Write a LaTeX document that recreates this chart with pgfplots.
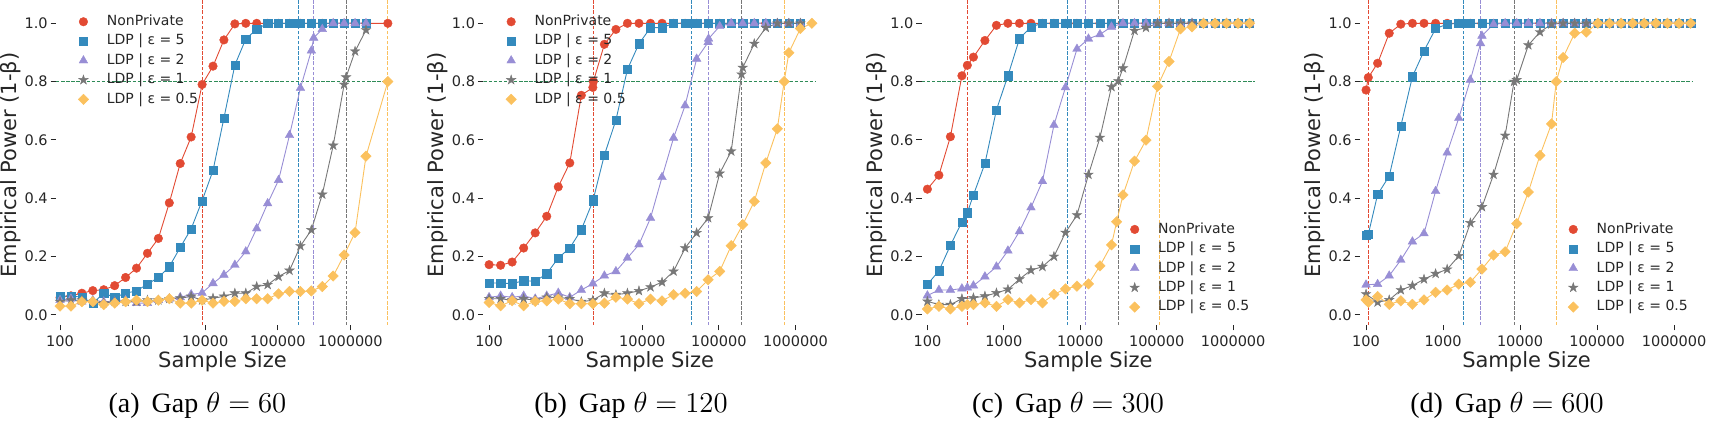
\documentclass[border=0pt]{standalone}
\usepackage{pgfplots}
\pgfplotsset{compat=1.18}
\usepackage{fontspec}
\newfontfamily\dejavu{DejaVu Sans}
\newfontfamily\capfont{Liberation Serif}
\definecolor{cred}{HTML}{E24A33}
\definecolor{cblue}{HTML}{348ABD}
\definecolor{cpurple}{HTML}{988ED5}
\definecolor{cgray}{HTML}{777777}
\definecolor{cyellow}{HTML}{FBC15E}
\definecolor{cgreen}{HTML}{2E8B57}
\definecolor{labc}{HTML}{262626}
\pgfdeclareplotmark{fstar}{%
  \pgfpathmoveto{\pgfpointpolar{90}{\pgfplotmarksize}}%
  \pgfpathlineto{\pgfpointpolar{126}{0.382\pgfplotmarksize}}%
  \pgfpathlineto{\pgfpointpolar{162}{\pgfplotmarksize}}%
  \pgfpathlineto{\pgfpointpolar{198}{0.382\pgfplotmarksize}}%
  \pgfpathlineto{\pgfpointpolar{234}{\pgfplotmarksize}}%
  \pgfpathlineto{\pgfpointpolar{270}{0.382\pgfplotmarksize}}%
  \pgfpathlineto{\pgfpointpolar{306}{\pgfplotmarksize}}%
  \pgfpathlineto{\pgfpointpolar{342}{0.382\pgfplotmarksize}}%
  \pgfpathlineto{\pgfpointpolar{18}{\pgfplotmarksize}}%
  \pgfpathlineto{\pgfpointpolar{54}{0.382\pgfplotmarksize}}%
  \pgfpathclose
  \pgfusepathqfillstroke
}
\pgfplotsset{
  legend image code/.code={\path (0pt,-1pt) (8pt,1pt); \draw[#1, only marks] plot coordinates {(4pt,0pt)};},
  panel/.style={
    scale only axis, width=166.5pt, height=162.5pt,
    ymin=-0.035, ymax=1.08,
    axis line style={draw=none},
    tick pos=left, tick align=outside,
    major tick length=2.75pt,
    every tick/.style={line width=0.5pt, color=labc},
    xminorticks=false,
    xtick={100,1000,10000,100000,1000000},
    xticklabels={100,1000,10000,100000,1000000},
    ytick={0,0.2,0.4,0.6,0.8,1},
    yticklabels={0.0,0.2,0.4,0.6,0.8,1.0},
    tick label style={font=\dejavu\fontsize{7.25pt}{8pt}\selectfont, text=labc},
    xticklabel style={anchor=base, inner sep=0pt, yshift=-8.25pt},
    yticklabel style={anchor=east, inner sep=0pt, xshift=-1.25pt},
    xlabel={Sample Size},
    ylabel={Empirical Power (1-β)},
    label style={font=\dejavu\fontsize{10.5pt}{12pt}\selectfont, text=labc},
    xlabel style={at={(axis description cs:0.5,0)}, anchor=base, inner sep=0pt, yshift=-21.5pt},
    ylabel style={at={(axis description cs:-0.1366,0.492)}, anchor=center, inner sep=0pt},
    legend cell align=left,
    legend style={draw=none, fill=none, inner sep=0pt, outer sep=0pt, row sep=2.9pt,
      font=\dejavu\fontsize{7pt}{8pt}\selectfont, text=labc,
      nodes={inner sep=0pt, text height=5.3pt, text depth=1.5pt},
      /tikz/every odd column/.append style={column sep=7.5pt}},
  },
  vl/.style={forget plot, line width=0.45pt, dash pattern=on 1.7pt off 0.85pt},
  sR/.style={color=cred, line width=0.45pt, mark=*, mark size=2.15pt, mark options={solid, line width=0.2pt, fill=cred}},
  sB/.style={color=cblue, line width=0.45pt, mark=square*, mark size=2.05pt, mark options={solid, line width=0.2pt, fill=cblue}},
  sP/.style={color=cpurple, line width=0.45pt, mark=triangle*, mark size=2.5pt, mark options={solid, line width=0.2pt, fill=cpurple}},
  sG/.style={color=cgray, line width=0.45pt, mark=fstar, mark size=2.5pt, mark options={solid, line width=0.2pt, fill=cgray}},
  sY/.style={color=cyellow, line width=0.45pt, mark=square*, mark size=1.85pt, mark options={solid, line width=0.2pt, fill=cyellow, rotate=45}},
}
\begin{document}
\begin{tikzpicture}
% ---------------- (a) ----------------
\begin{axis}[xmode=log, panel, at={(28pt,49pt)}, anchor=south west, xmin=88, xmax=3400000,
  legend style={at={(axis description cs:0.057,0.954)}, anchor=north west}]
\addplot[vl, cred] coordinates {(9290,-0.035) (9290,1.08)};
\addplot[vl, cblue] coordinates {(189700,-0.035) (189700,1.08)};
\addplot[vl, cpurple] coordinates {(312000,-0.035) (312000,1.08)};
\addplot[vl, cgray] coordinates {(871000,-0.035) (871000,1.08)};
\addplot[vl, cyellow] coordinates {(3200000,-0.035) (3200000,1.08)};
\addplot[vl, cgreen] coordinates {(88,0.8) (3400000,0.8)};
\addplot[sR] coordinates {(100,.059)(141.4,.065)(200,.074)(282.8,.083)(400,.086)(565.7,.10)(800,.128)(1131,.16)(1600,.211)(2263,.262)(3200,.384)(4525,.519)(6400,.61)(9051,.79)(12800,.853)(18102,.943)(25600,.998)(36204,1)(51200,1)(72408,1)(102400,1)(144815,1)(204800,1)(289631,1)(409600,1)(579262,1)(819200,1)(1158524,1)(1638400,1)(3276800,1)};
\addplot[sB] coordinates {(100,.063)(141.4,.065)(200,.06)(282.8,.04)(400,.074)(565.7,.06)(800,.074)(1131,.082)(1600,.105)(2263,.128)(3200,.165)(4525,.231)(6400,.295)(9051,.391)(12800,.495)(18102,.675)(25600,.857)(36204,.946)(51200,.98)(72408,1)(102400,1)(144815,1)(189700,1)(204800,1)(289631,1)(409600,1)(579262,1)(819200,1)(1158524,1)(1638400,1)};
\addplot[sP] coordinates {(100,.05)(141.4,.055)(200,.045)(282.8,.05)(400,.045)(565.7,.045)(800,.05)(1131,.04)(1600,.04)(2263,.05)(3200,.055)(4525,.06)(6400,.07)(9051,.075)(12800,.108)(18102,.137)(25600,.171)(36204,.217)(51200,.296)(72408,.382)(102400,.462)(144815,.616)(204800,.778)(289631,.906)(312000,.95)(409600,.98)(579262,1)(819200,1)(1158524,1)(1638400,1)};
\addplot[sG] coordinates {(100,.045)(141.4,.05)(200,.05)(282.8,.045)(400,.04)(565.7,.045)(800,.045)(1131,.045)(1600,.05)(2263,.05)(3200,.055)(4525,.057)(6400,.063)(9051,.05)(12800,.057)(18102,.063)(25600,.074)(36204,.074)(51200,.097)(72408,.103)(102400,.131)(144815,.152)(204800,.236)(289631,.291)(409600,.413)(579262,.581)(819200,.79)(871000,.815)(1158524,.904)(1638400,.977)};
\addplot[sY] coordinates {(100,.03)(141.4,.03)(200,.045)(282.8,.045)(400,.035)(565.7,.04)(800,.045)(1131,.05)(1600,.045)(2263,.05)(3200,.055)(4525,.04)(6400,.04)(9051,.05)(12800,.04)(18102,.046)(25600,.046)(36204,.055)(51200,.055)(72408,.055)(102400,.072)(144815,.08)(204800,.08)(289631,.082)(409600,.097)(579262,.133)(819200,.205)(1158524,.282)(1638400,.544)(3276800,.80)};
\legend{NonPrivate, LDP | ε = 5, LDP | ε = 2, LDP | ε = 1, LDP | ε = 0.5}
\end{axis}
% ---------------- (b) ----------------
\begin{axis}[xmode=log, panel, at={(241.7pt,49pt)}, anchor=south west, xmin=84.3, xmax=1875000,
  legend style={at={(axis description cs:0.058,0.954)}, anchor=north west}]
\addplot[vl, cred] coordinates {(2296,-0.035) (2296,1.08)};
\addplot[vl, cblue] coordinates {(44000,-0.035) (44000,1.08)};
\addplot[vl, cpurple] coordinates {(73300,-0.035) (73300,1.08)};
\addplot[vl, cgray] coordinates {(197600,-0.035) (197600,1.08)};
\addplot[vl, cyellow] coordinates {(711000,-0.035) (711000,1.08)};
\addplot[vl, cgreen] coordinates {(84.3,0.8) (1875000,0.8)};
\addplot[sR] coordinates {(100,.172)(141.4,.17)(200,.181)(282.8,.229)(400,.281)(565.7,.338)(800,.439)(1131,.521)(1600,.753)(2263,.78)(2296,.80)(3200,.928)(4525,.979)(6400,1)(9051,1)(12800,1)(18102,1)(25600,1)(36204,1)(44000,1)(51200,1)(72408,1)(102400,1)(144815,1)(204800,1)(289631,1)(409600,1)(579262,1)(819200,1)(1158524,1)};
\addplot[sB] coordinates {(100,.109)(141.4,.109)(200,.107)(282.8,.117)(400,.115)(565.7,.141)(800,.195)(1131,.229)(1600,.292)(2263,.39)(2296,.397)(3200,.548)(4525,.668)(6400,.842)(9051,.93)(12800,.985)(18102,.985)(25600,1)(36204,1)(44000,1)(51200,1)(72408,1)(102400,1)(144815,1)(204800,1)(289631,1)(409600,1)(579262,1)(819200,1)(1158524,1)};
\addplot[sP] coordinates {(100,.06)(141.4,.065)(200,.06)(282.8,.065)(400,.055)(565.7,.065)(800,.075)(1131,.06)(1600,.085)(2263,.107)(3200,.134)(4525,.149)(6400,.195)(9051,.241)(12800,.332)(18102,.472)(25600,.607)(36204,.718)(51200,.878)(72408,.935)(73300,.947)(102400,.99)(144815,1)(204800,1)(289631,1)(409600,1)(579262,1)(819200,1)(1158524,1)};
\addplot[sG] coordinates {(100,.055)(141.4,.055)(200,.05)(282.8,.055)(400,.05)(565.7,.06)(800,.06)(1131,.055)(1600,.045)(2263,.05)(3200,.074)(4525,.069)(6400,.074)(9051,.082)(12800,.095)(18102,.112)(25600,.149)(36204,.229)(51200,.281)(72408,.332)(102400,.485)(144815,.561)(197600,.825)(204800,.848)(289631,.93)(409600,.985)(579262,1)(819200,1)(1158524,1)};
\addplot[sY] coordinates {(100,.042)(141.4,.031)(200,.048)(282.8,.031)(400,.046)(565.7,.048)(800,.054)(1131,.038)(1600,.038)(2263,.038)(3200,.04)(4525,.06)(6400,.054)(9051,.038)(12800,.054)(18102,.048)(25600,.069)(36204,.074)(51200,.08)(72408,.12)(102400,.149)(144815,.237)(204800,.309)(289631,.389)(409600,.521)(579262,.638)(711000,.80)(819200,.899)(1158524,.982)(1638400,1)};
\legend{NonPrivate, LDP | ε = 5, LDP | ε = 2, LDP | ε = 1, LDP | ε = 0.5}
\end{axis}
% ---------------- (c) ----------------
\begin{axis}[xmode=log, panel, at={(460.9pt,49pt)}, anchor=south west, xmin=84.5, xmax=1920000,
  legend style={at={(axis description cs:0.614,0.315)}, anchor=north west}]
\addplot[vl, cred] coordinates {(333,-0.035) (333,1.08)};
\addplot[vl, cblue] coordinates {(6760,-0.035) (6760,1.08)};
\addplot[vl, cpurple] coordinates {(11740,-0.035) (11740,1.08)};
\addplot[vl, cgray] coordinates {(31400,-0.035) (31400,1.08)};
\addplot[vl, cyellow] coordinates {(110000,-0.035) (110000,1.08)};
\addplot[vl, cgreen] coordinates {(84.5,0.8) (1920000,0.8)};
\addplot[sR] coordinates {(100,.431)(141.4,.479)(200,.611)(282.8,.82)(333,.856)(400,.884)(565.7,.941)(800,.993)(1131,1)(1600,1)(2263,1)(3200,1)(4525,1)(6400,1)(9051,1)(12800,1)(18102,1)(25600,1)(36204,1)(51200,1)(72408,1)(102400,1)(144815,1)(204800,1)(289631,1)(409600,1)(579262,1)(819200,1)(1158524,1)(1638400,1)};
\addplot[sB] coordinates {(100,.104)(141.4,.151)(200,.238)(282.8,.319)(333,.35)(400,.411)(565.7,.519)(800,.703)(1131,.82)(1600,.947)(2263,.988)(3200,1)(4525,1)(6400,1)(6760,1)(9051,1)(12800,1)(18102,1)(25600,1)(36204,1)(51200,1)(72408,1)(102400,1)(144815,1)(204800,1)(289631,1)(409600,1)(579262,1)(819200,1)(1158524,1)(1638400,1)};
\addplot[sP] coordinates {(100,.066)(141.4,.085)(200,.085)(282.8,.09)(333,.093)(400,.1)(565.7,.131)(800,.165)(1131,.22)(1600,.286)(2263,.368)(3200,.458)(4525,.651)(6400,.78)(9051,.912)(12800,.947)(18102,.962)(25600,.988)(36204,1)(51200,1)(72408,1)(102400,1)(144815,1)(204800,1)(289631,1)(409600,1)(579262,1)(819200,1)(1158524,1)(1638400,1)};
\addplot[sG] coordinates {(100,.046)(141.4,.035)(200,.035)(282.8,.055)(400,.058)(565.7,.064)(800,.075)(1131,.087)(1600,.122)(2263,.153)(3200,.165)(4525,.2)(6400,.282)(9051,.342)(12800,.481)(18102,.608)(25600,.782)(31400,.802)(36204,.846)(51200,.975)(72408,.985)(102400,1)(144815,1)(204800,1)(289631,1)(409600,1)(579262,1)(819200,1)(1158524,1)(1638400,1)};
\addplot[sY] coordinates {(100,.02)(141.4,.029)(200,.02)(282.8,.029)(333,.035)(400,.035)(565.7,.041)(800,.029)(1131,.052)(1600,.041)(2263,.052)(3200,.041)(4525,.07)(6400,.089)(9051,.098)(12800,.106)(18102,.168)(25600,.24)(29900,.319)(36204,.411)(51200,.527)(72408,.599)(102400,.784)(144815,.869)(204800,.981)(289631,.988)(409600,1)(579262,1)(819200,1)(1158524,1)(1638400,1)};
\legend{NonPrivate, LDP | ε = 5, LDP | ε = 2, LDP | ε = 1, LDP | ε = 0.5}
\end{axis}
% ---------------- (d) ----------------
\begin{axis}[xmode=log, panel, at={(680pt,49pt)}, anchor=south west, xmin=83.5, xmax=1760000,
  legend style={at={(axis description cs:0.615,0.315)}, anchor=north west}]
\addplot[vl, cred] coordinates {(107,-0.035) (107,1.08)};
\addplot[vl, cblue] coordinates {(1823,-0.035) (1823,1.08)};
\addplot[vl, cpurple] coordinates {(3069,-0.035) (3069,1.08)};
\addplot[vl, cgray] coordinates {(8350,-0.035) (8350,1.08)};
\addplot[vl, cyellow] coordinates {(29500,-0.035) (29500,1.08)};
\addplot[vl, cgreen] coordinates {(83.5,0.8) (1760000,0.8)};
\addplot[sR] coordinates {(100,.771)(107,.814)(141.4,.863)(200,.966)(282.8,.997)(400,1)(565.7,1)(800,1)(1131,1)(1600,1)(2263,1)(3200,1)(4525,1)(6400,1)(9051,1)(12800,1)(18102,1)(25600,1)(36204,1)(51200,1)(72408,1)(102400,1)(144815,1)(204800,1)(289631,1)(409600,1)(579262,1)(819200,1)(1158524,1)(1638400,1)};
\addplot[sB] coordinates {(100,.273)(107,.276)(141.4,.413)(200,.476)(282.8,.647)(400,.817)(565.7,.905)(800,.982)(1131,.997)(1600,1)(1823,1)(2263,1)(3200,1)(4525,1)(6400,1)(9051,1)(12800,1)(18102,1)(25600,1)(36204,1)(51200,1)(72408,1)(102400,1)(144815,1)(204800,1)(289631,1)(409600,1)(579262,1)(819200,1)(1158524,1)(1638400,1)};
\addplot[sP] coordinates {(100,.103)(141.4,.105)(200,.134)(282.8,.188)(400,.251)(565.7,.279)(800,.424)(1131,.556)(1600,.675)(2263,.806)(3069,.931)(3200,.957)(4525,.997)(6400,1)(9051,1)(12800,1)(18102,1)(25600,1)(36204,1)(51200,1)(72408,1)(102400,1)(144815,1)(204800,1)(289631,1)(409600,1)(579262,1)(819200,1)(1158524,1)(1638400,1)};
\addplot[sG] coordinates {(100,.071)(141.4,.043)(200,.051)(282.8,.085)(400,.1)(565.7,.122)(800,.141)(1131,.156)(1600,.202)(2263,.315)(3200,.37)(4525,.481)(6400,.615)(8350,.80)(9051,.806)(12800,.925)(18102,.97)(25600,.997)(36204,1)(51200,1)(72408,1)(102400,1)(144815,1)(204800,1)(289631,1)(409600,1)(579262,1)(819200,1)(1158524,1)(1638400,1)};
\addplot[sY] coordinates {(100,.051)(107,.043)(141.4,.063)(200,.036)(282.8,.048)(400,.036)(565.7,.051)(800,.077)(1131,.085)(1600,.105)(2263,.112)(3200,.157)(4525,.205)(6400,.216)(9051,.313)(12800,.421)(18102,.547)(25600,.655)(29500,.80)(36204,.883)(51200,.966)(72408,.97)(102400,1)(144815,1)(204800,1)(289631,1)(409600,1)(579262,1)(819200,1)(1158524,1)(1638400,1)};
\legend{NonPrivate, LDP | ε = 5, LDP | ε = 2, LDP | ε = 1, LDP | ε = 0.5}
\end{axis}
% captions
\node[anchor=base, font=\fontsize{14pt}{16pt}\selectfont] at (98.75pt,5pt) {\capfont (a)\hspace{6pt}Gap\hspace{4pt}$\theta = 60$};
\node[anchor=base, font=\fontsize{14pt}{16pt}\selectfont] at (315.5pt,5pt) {\capfont (b)\hspace{6pt}Gap\hspace{4pt}$\theta = 120$};
\node[anchor=base, font=\fontsize{14pt}{16pt}\selectfont] at (534pt,5pt) {\capfont (c)\hspace{6pt}Gap\hspace{4pt}$\theta = 300$};
\node[anchor=base, font=\fontsize{14pt}{16pt}\selectfont] at (753.5pt,5pt) {\capfont (d)\hspace{6pt}Gap\hspace{4pt}$\theta = 600$};
\pgfresetboundingbox
\useasboundingbox (0,0) rectangle (855pt,211.5pt);
\end{tikzpicture}
\end{document}
